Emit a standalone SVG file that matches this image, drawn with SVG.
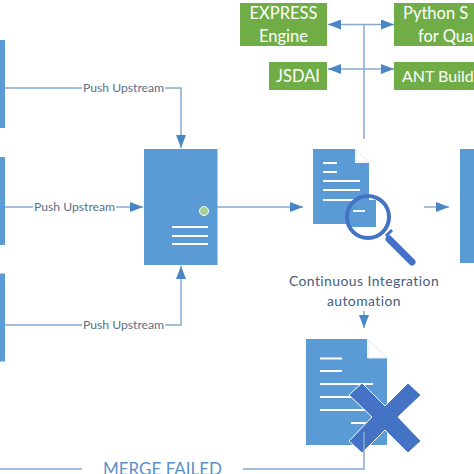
<svg xmlns="http://www.w3.org/2000/svg" width="474" height="474" viewBox="0 0 474 474">
<style>
.g{fill:#70ad47}
.b{fill:#5b9bd5}
.gt{font-family:Lato,"Liberation Sans",sans-serif;font-size:16.5px;fill:#fff;text-anchor:middle}
.gs{font-family:Lato,"Liberation Sans",sans-serif;font-size:16.5px;fill:#fff}
.lb{font-family:Lato,"Liberation Sans",sans-serif;font-size:12.200px;fill:#5a7087;text-anchor:middle}
.ct{font-family:Lato,"Liberation Sans",sans-serif;font-size:13.900px;fill:#44607c;text-anchor:middle;letter-spacing:.45px}
.c{fill:none;stroke:#85aad0;stroke-width:1.5}
.w{stroke:#fff;stroke-width:1.8;fill:none}
</style>
<defs>
<marker id="a" viewBox="0 0 13 10" refX="13" refY="5" markerWidth="13" markerHeight="10" markerUnits="userSpaceOnUse" orient="auto-start-reverse"><path d="M0 0L13 5L0 10Z" fill="#4a86c5"/></marker>
</defs>
<g id="connectors">
<path class="c" d="M5 88H82M165 88H181V148" marker-end="url(#a)"/>
<path class="c" d="M5 207H33M116 207H143" marker-end="url(#a)"/>
<path class="c" d="M5 325H82M165 325H181V266" marker-end="url(#a)"/>
<path class="c" d="M217 207H303" marker-end="url(#a)"/>
<path class="c" d="M424 207H449" marker-end="url(#a)"/>
<path class="c" d="M364 311V328" marker-end="url(#a)"/>
<path class="c" d="M364 24V139"/>
<path class="c" d="M364 24.500H328" marker-end="url(#a)"/>
<path class="c" d="M364 24.500H394" marker-end="url(#a)"/>
<path class="c" d="M364 69H328" marker-end="url(#a)"/>
<path class="c" d="M364 69H394" marker-end="url(#a)"/>
</g>
<g id="dev1"><rect class="b" x="-2" y="40" width="7" height="88"/></g>
<g id="dev2"><rect class="b" x="-2" y="157" width="7" height="88"/></g>
<g id="dev3"><rect class="b" x="-2" y="273.500" width="7" height="88"/></g>
<g id="push1"><text class="lb" x="123.500" y="92">Push Upstream</text></g>
<g id="push2"><text class="lb" x="74.500" y="211">Push Upstream</text></g>
<g id="push3"><text class="lb" x="123.500" y="329">Push Upstream</text></g>
<g id="server">
<rect class="b" x="144" y="149" width="73.500" height="116"/>
<circle cx="204" cy="211" r="4.500" fill="#a9d18e" stroke="#fff" stroke-width="1"/>
<path class="w" d="M172 227H208M172 236H208M172 244H208" stroke-width="2.200"/>
</g>
<g id="express"><rect class="g" x="240" y="3" width="87" height="43"/><text class="gt" x="283.500" y="19">EXPRESS</text><text class="gt" x="283.500" y="42">Engine</text></g>
<g id="python"><rect class="g" x="394" y="3" width="90" height="43"/><text class="gs" x="403" y="19">Python S</text><text class="gs" x="418" y="42">for Qua</text></g>
<g id="jsdai"><rect class="g" x="269" y="62" width="58" height="28"/><text class="gt" x="298" y="82">JSDAI</text></g>
<g id="ant"><rect class="g" x="394" y="62" width="90" height="28"/><text class="gs" x="402" y="82" style="font-size:16px">ANT Build</text></g>
<g id="ci-doc">
<path class="b" d="M313 149H355V163H369V224H313Z"/>
<path d="M356 150L369 162H356Z" fill="#fff" stroke="#dfe8f2" stroke-width="1"/>
<path class="w" d="M323 163H337M323 172H337M323 181H360M323 190H360M323 200H355"/>
<circle cx="368" cy="217" r="22" fill="#fff"/>
<path class="b" d="M347 227V207Q352 199 369 197V200H376V227Z"/>
<path class="w" d="M353 211H365"/>
<circle cx="368" cy="217" r="21" fill="none" stroke="#4472c4" stroke-width="4"/>
<path d="M386 236L392 230" stroke="#4472c4" stroke-width="3"/>
<path d="M389 239L412 262" stroke="#4472c4" stroke-width="7" stroke-linecap="round"/>
</g>
<g id="ci-label"><text class="ct" x="364" y="286">Continuous Integration</text><text class="ct" x="364" y="306">automation</text></g>
<g id="right-server"><rect class="b" x="460" y="149" width="16" height="114"/></g>
<g id="failed-doc">
<path class="b" d="M306 339H367V358H387V445H306Z"/>
<path d="M368 340L387 358H368Z" fill="#fff" stroke="#dfe8f2" stroke-width="1"/>
<path class="w" d="M320 358.500H342M320 371H342M320 384H373M320 397H360M320 410H365M351 423H370"/>
<path d="M362 383L385 406L408 383L421 395L398 417L421 441L408 453L385 430L362 453L349 441L372 417L349 395Z" fill="#4472c4" stroke="#fff" stroke-width="1"/>
</g>
<g id="merge-connector"><path class="c" d="M0 469H82M243 469H364V432"/></g>
<g id="merge-label"><text x="162.500" y="475" font-family="Lato,'Liberation Sans',sans-serif" font-size="17" fill="#5b8fc7" text-anchor="middle">MERGE FAILED</text></g>
</svg>
